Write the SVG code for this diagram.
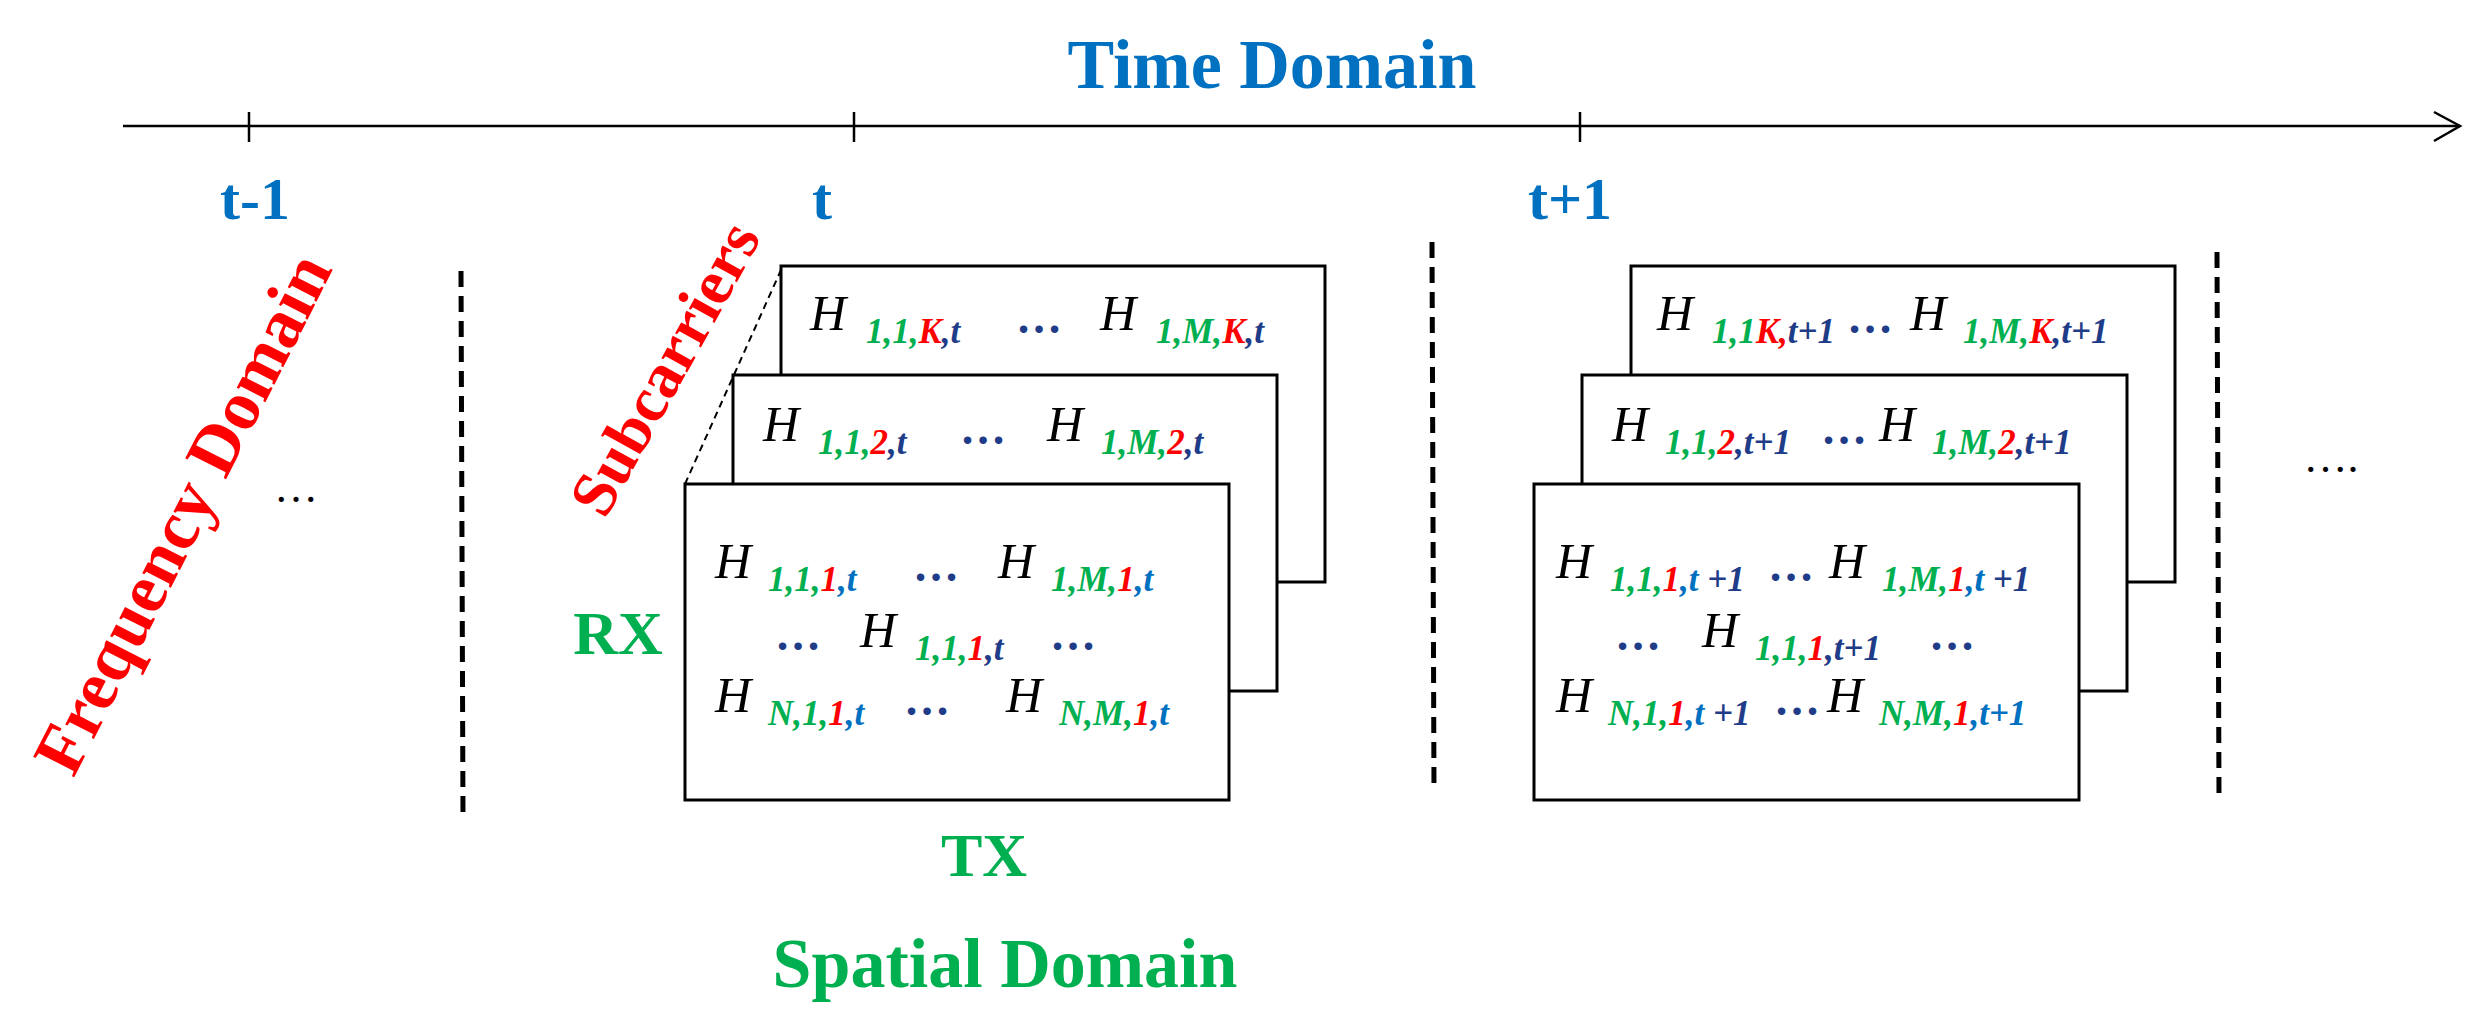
<svg xmlns="http://www.w3.org/2000/svg" width="2481" height="1026" viewBox="0 0 2481 1026">
<style>
.ttl{font-family:"Liberation Serif",serif;font-weight:bold;font-size:70px}
.lbl{font-family:"Liberation Serif",serif;font-weight:bold;font-size:60px;fill:#0070C0}
.box{fill:#fff;stroke:#000;stroke-width:3}
.dash{stroke:#000;stroke-width:5;stroke-dasharray:16 9;fill:none}
.H{font-family:"Liberation Serif",serif;font-style:italic;font-size:50px;fill:#000}
.s{font-family:"Liberation Serif",serif;font-style:italic;font-weight:bold;font-size:35px}
.g{fill:#00B050}.r{fill:#FF0000}.b{fill:#0070C0}.n{fill:#1F3C88}
.d{font-family:"Liberation Serif",serif;font-weight:bold;font-size:46px;fill:#1F3C88}
</style>
<g id="connectors">
<line x1="123" y1="126" x2="2460" y2="126" stroke="#000" stroke-width="2.5"/>
<polyline points="2434,112 2460,126 2434,141" fill="none" stroke="#000" stroke-width="2.5"/>
<line x1="249" y1="112" x2="249" y2="142" stroke="#000" stroke-width="2.5"/>
<line x1="854" y1="112" x2="854" y2="142" stroke="#000" stroke-width="2.5"/>
<line x1="1580" y1="112" x2="1580" y2="142" stroke="#000" stroke-width="2.5"/>
<line class="dash" x1="461" y1="271" x2="463" y2="817"/>
<line class="dash" x1="1432" y1="242" x2="1434" y2="791"/>
<line class="dash" x1="2217" y1="252" x2="2219" y2="797"/>
<line x1="685" y1="484" x2="781" y2="270" stroke="#000" stroke-width="2" stroke-dasharray="7 5"/>
</g>
<g id="labels">
<text class="ttl" x="1272" y="88" text-anchor="middle" fill="#0070C0">Time Domain</text>
<text class="lbl" x="255" y="219" text-anchor="middle">t-1</text>
<text class="lbl" x="822" y="219" text-anchor="middle">t</text>
<text class="lbl" x="1570" y="219" text-anchor="middle">t+1</text>
<text class="ttl" transform="translate(182,513) rotate(-63)" text-anchor="middle" dy="24" fill="#FF0000">Frequency Domain</text>
<text class="ttl" transform="translate(666,369) rotate(-61)" text-anchor="middle" dy="20" fill="#FF0000" style="font-size:64px">Subcarriers</text>
<text x="296" y="502" text-anchor="middle" font-family="Liberation Serif,serif" font-size="44">…</text>
<text x="2331" y="472" text-anchor="middle" font-family="Liberation Serif,serif" font-size="44">….</text>
<text class="ttl" x="618" y="654" text-anchor="middle" fill="#00B050" style="font-size:62px">RX</text>
<text class="ttl" x="984" y="876" text-anchor="middle" fill="#00B050" style="font-size:62px">TX</text>
<text class="ttl" x="1005" y="987" text-anchor="middle" fill="#00B050">Spatial Domain</text>
</g>
<g id="stack-t">
<rect class="box" x="781" y="266" width="544" height="316"/>
<rect class="box" x="733" y="375" width="544" height="316"/>
<rect class="box" x="685" y="484" width="544" height="316"/>
<text class="H" x="810" y="330">H</text>
<text class="s" x="866" y="343"><tspan class="g">1,1,</tspan><tspan class="r">K</tspan><tspan class="n">,t</tspan></text>
<text class="d" x="1016" y="333">…</text>
<text class="H" x="1100" y="330">H</text>
<text class="s" x="1156" y="343"><tspan class="g">1,M,</tspan><tspan class="r">K</tspan><tspan class="n">,t</tspan></text>
<text class="H" x="763" y="441">H</text>
<text class="s" x="818" y="454"><tspan class="g">1,1,</tspan><tspan class="r">2</tspan><tspan class="n">,t</tspan></text>
<text class="d" x="960" y="444">…</text>
<text class="H" x="1047" y="441">H</text>
<text class="s" x="1101" y="454"><tspan class="g">1,M,</tspan><tspan class="r">2</tspan><tspan class="n">,t</tspan></text>
<text class="H" x="715" y="578">H</text>
<text class="s" x="768" y="591"><tspan class="g">1,1,</tspan><tspan class="r">1</tspan><tspan class="b">,t</tspan></text>
<text class="d" x="913" y="581">…</text>
<text class="H" x="998" y="578">H</text>
<text class="s" x="1051" y="591"><tspan class="g">1,M,</tspan><tspan class="r">1</tspan><tspan class="b">,t</tspan></text>
<text class="d" x="775" y="650">…</text>
<text class="H" x="860" y="647">H</text>
<text class="s" x="915" y="660"><tspan class="g">1,1,</tspan><tspan class="r">1</tspan><tspan class="n">,t</tspan></text>
<text class="d" x="1050" y="650">…</text>
<text class="H" x="715" y="712">H</text>
<text class="s" x="768" y="725"><tspan class="g">N,1,</tspan><tspan class="r">1</tspan><tspan class="b">,t</tspan></text>
<text class="d" x="904" y="715">…</text>
<text class="H" x="1006" y="712">H</text>
<text class="s" x="1059" y="725"><tspan class="g">N,M,</tspan><tspan class="r">1</tspan><tspan class="b">,t</tspan></text>
</g>
<g id="stack-t1">
<rect class="box" x="1631" y="266" width="544" height="316"/>
<rect class="box" x="1582" y="375" width="545" height="316"/>
<rect class="box" x="1534" y="484" width="545" height="316"/>
<text class="H" x="1657" y="330">H</text>
<text class="s" x="1712" y="343"><tspan class="g">1,1</tspan><tspan class="r">K,</tspan><tspan class="n">t+1</tspan></text>
<text class="d" x="1847" y="333">…</text>
<text class="H" x="1910" y="330">H</text>
<text class="s" x="1963" y="343"><tspan class="g">1,M,</tspan><tspan class="r">K</tspan><tspan class="n">,t+1</tspan></text>
<text class="H" x="1612" y="441">H</text>
<text class="s" x="1665" y="454"><tspan class="g">1,1,</tspan><tspan class="r">2</tspan><tspan class="n">,t+1</tspan></text>
<text class="d" x="1821" y="444">…</text>
<text class="H" x="1879" y="441">H</text>
<text class="s" x="1932" y="454"><tspan class="g">1,M,</tspan><tspan class="r">2</tspan><tspan class="n">,t+1</tspan></text>
<text class="H" x="1556" y="578">H</text>
<text class="s" x="1610" y="591"><tspan class="g">1,1,</tspan><tspan class="r">1</tspan><tspan class="b">,t </tspan><tspan class="n">+1</tspan></text>
<text class="d" x="1768" y="581">…</text>
<text class="H" x="1829" y="578">H</text>
<text class="s" x="1882" y="591"><tspan class="g">1,M,</tspan><tspan class="r">1</tspan><tspan class="b">,t </tspan><tspan class="n">+1</tspan></text>
<text class="d" x="1615" y="650">…</text>
<text class="H" x="1702" y="647">H</text>
<text class="s" x="1755" y="660"><tspan class="g">1,1,</tspan><tspan class="r">1</tspan><tspan class="n">,t+1</tspan></text>
<text class="d" x="1929" y="650">…</text>
<text class="H" x="1556" y="712">H</text>
<text class="s" x="1608" y="725"><tspan class="g">N,1,</tspan><tspan class="r">1</tspan><tspan class="b">,t </tspan><tspan class="n">+1</tspan></text>
<text class="d" x="1774" y="715">…</text>
<text class="H" x="1827" y="712">H</text>
<text class="s" x="1879" y="725"><tspan class="g">N,M,</tspan><tspan class="r">1</tspan><tspan class="b">,t+1</tspan></text>
</g>
</svg>
